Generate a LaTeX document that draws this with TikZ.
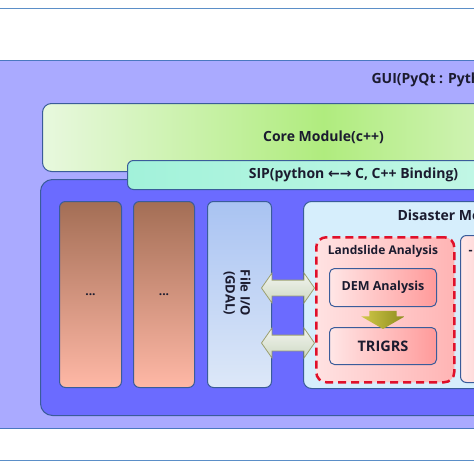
\documentclass[tikz,border=0pt]{standalone}
\usepackage{fontspec}
\setmainfont{Open Sans}
\newfontfamily\arrowfont{DejaVu Sans}
\usepackage{tikz}
\usetikzlibrary{positioning,shapes.arrows}

\definecolor{ink}{HTML}{1B1B2F}
\definecolor{frameline}{HTML}{5B8FC8}
\definecolor{guifill}{HTML}{AAAAFF}
\definecolor{guiedge}{HTML}{4A78C0}
\definecolor{coreA}{HTML}{E8F8DE}
\definecolor{coreB}{HTML}{B0EC7E}
\definecolor{sipA}{HTML}{A2F2DA}
\definecolor{sipB}{HTML}{CAF8E8}
\definecolor{engfill}{HTML}{6B6BFF}
\definecolor{edge}{HTML}{3A5C9A}
\definecolor{libtop}{HTML}{A36E55}
\definecolor{libbot}{HTML}{FFB8A6}
\definecolor{iotop}{HTML}{A9C3F2}
\definecolor{iobot}{HTML}{DDE8F8}
\definecolor{disfill}{HTML}{D6EEFC}
\definecolor{slide}{HTML}{E0102A}
\definecolor{slideA}{HTML}{FFE2E2}
\definecolor{slideB}{HTML}{FFB4B4}
\definecolor{stepA}{HTML}{FFE6E6}
\definecolor{stepB}{HTML}{FF9A9A}
\definecolor{arrA}{HTML}{F2F5EE}
\definecolor{arrB}{HTML}{CED8C4}
\definecolor{arredge}{HTML}{9CA070}
\definecolor{downA}{HTML}{D0C848}
\definecolor{downB}{HTML}{8E8C1E}

\begin{document}
\begin{tikzpicture}[x=1pt,y=-1pt,
	big/.style={font=\bfseries\fontsize{14}{16}\selectfont,text=ink},
	txt/.style={font=\bfseries\fontsize{12.5}{15}\selectfont,text=ink},
	small/.style={font=\bfseries\fontsize{12}{14}\selectfont,text=ink},
	box/.style={draw=edge,line width=1pt,rounded corners=6pt,inner sep=0pt,anchor=north west},
	bar/.style={box,top color=libtop,bottom color=libbot,minimum height=186pt},
	stepbox/.style={box,rounded corners=5pt,left color=stepA,right color=stepB,txt},
	darrow/.style={double arrow,draw=arredge,top color=arrA,bottom color=arrB,line width=.8pt,
		inner sep=0pt,minimum height=53pt,double arrow head extend=7pt,double arrow tip angle=110}]
	\useasboundingbox (0,0) rectangle (474,474);
	\clip (0,0) rectangle (474,474);
	\node[draw=frameline,fill=white,line width=1pt,inner sep=0pt,anchor=north west,
		minimum width=500pt,minimum height=452pt] (page) at (-13,8) {};
	\node[draw=guiedge,fill=guifill,line width=1pt,inner sep=0pt,anchor=north west,
		minimum width=500pt,minimum height=368pt] (gui) at (-13,60) {};
	\node[big,anchor=west] (guilbl) at (368,80) {GUI(PyQt : Python)};
	\node[box,rounded corners=9pt,left color=coreA,right color=coreA,middle color=coreB,
		minimum width=562pt,minimum height=68pt,big] (core) at (42,103) {Core Module(c++)};
	\node[box,rounded corners=12pt,fill=engfill,minimum width=480pt,minimum height=236pt] (engine) at (40,179) {};
	\node[box,left color=sipA,right color=sipB,minimum width=452pt,minimum height=29pt,big] (sip) at (127,160)
		{SIP(python {\arrowfont ←→} C, C++ Binding)};
	% libraries
	\node[bar,minimum width=62pt,small] (lib1) at (59,201) {...};
	\node[bar,minimum width=61pt,small] (lib2) at (133,201) {...};
	\node[box,top color=iotop,bottom color=iobot,minimum width=64pt,minimum height=186pt] (io) at (207,201) {};
	\node[txt,font=\bfseries\fontsize{13}{15}\selectfont,rotate=-90,align=center] (iolbl) at (237,293) {File I/O\\(GDAL)};
	% disaster module
	\node[box,rounded corners=8pt,fill=disfill,minimum width=260pt,minimum height=187pt] (disaster) at (303,201) {};
	\node[big,anchor=west] (dislbl) at (394,215) {Disaster Module};
	\node[box,draw=slide,line width=2.5pt,dash pattern=on 8pt off 5pt,rounded corners=10pt,
		left color=slideA,right color=slideB,minimum width=138pt,minimum height=145pt] (slide) at (315,236) {};
	\node[small] (slidelbl) at (383,251) {Landslide Analysis};
	\node[stepbox,minimum width=107pt,minimum height=38pt] (dem) at (329,268) {DEM Analysis};
	\node[stepbox,minimum width=107pt,minimum height=37pt,font=\bfseries\fontsize{14.5}{16}\selectfont] (trigrs) at (329,327) {TRIGRS};
	\node[box,left color=stepA,right color=stepB,minimum width=100pt,minimum height=147pt] (other) at (460,235) {};
	\node[txt,anchor=west] (otherlbl) at (465,252) {-};
	% arrows
	\node[darrow] (io2dem) at (288,288) {\rule{0pt}{15pt}};
	\node[darrow] (io2trigrs) at (288,343) {\rule{0pt}{15pt}};
	\node[single arrow,rotate=-90,left color=downA,right color=downB,inner sep=0pt,
		minimum height=18pt,single arrow head extend=8pt,single arrow tip angle=120] (dem2trigrs) at (383,316) {\rule{0pt}{27pt}};
\end{tikzpicture}
\end{document}
